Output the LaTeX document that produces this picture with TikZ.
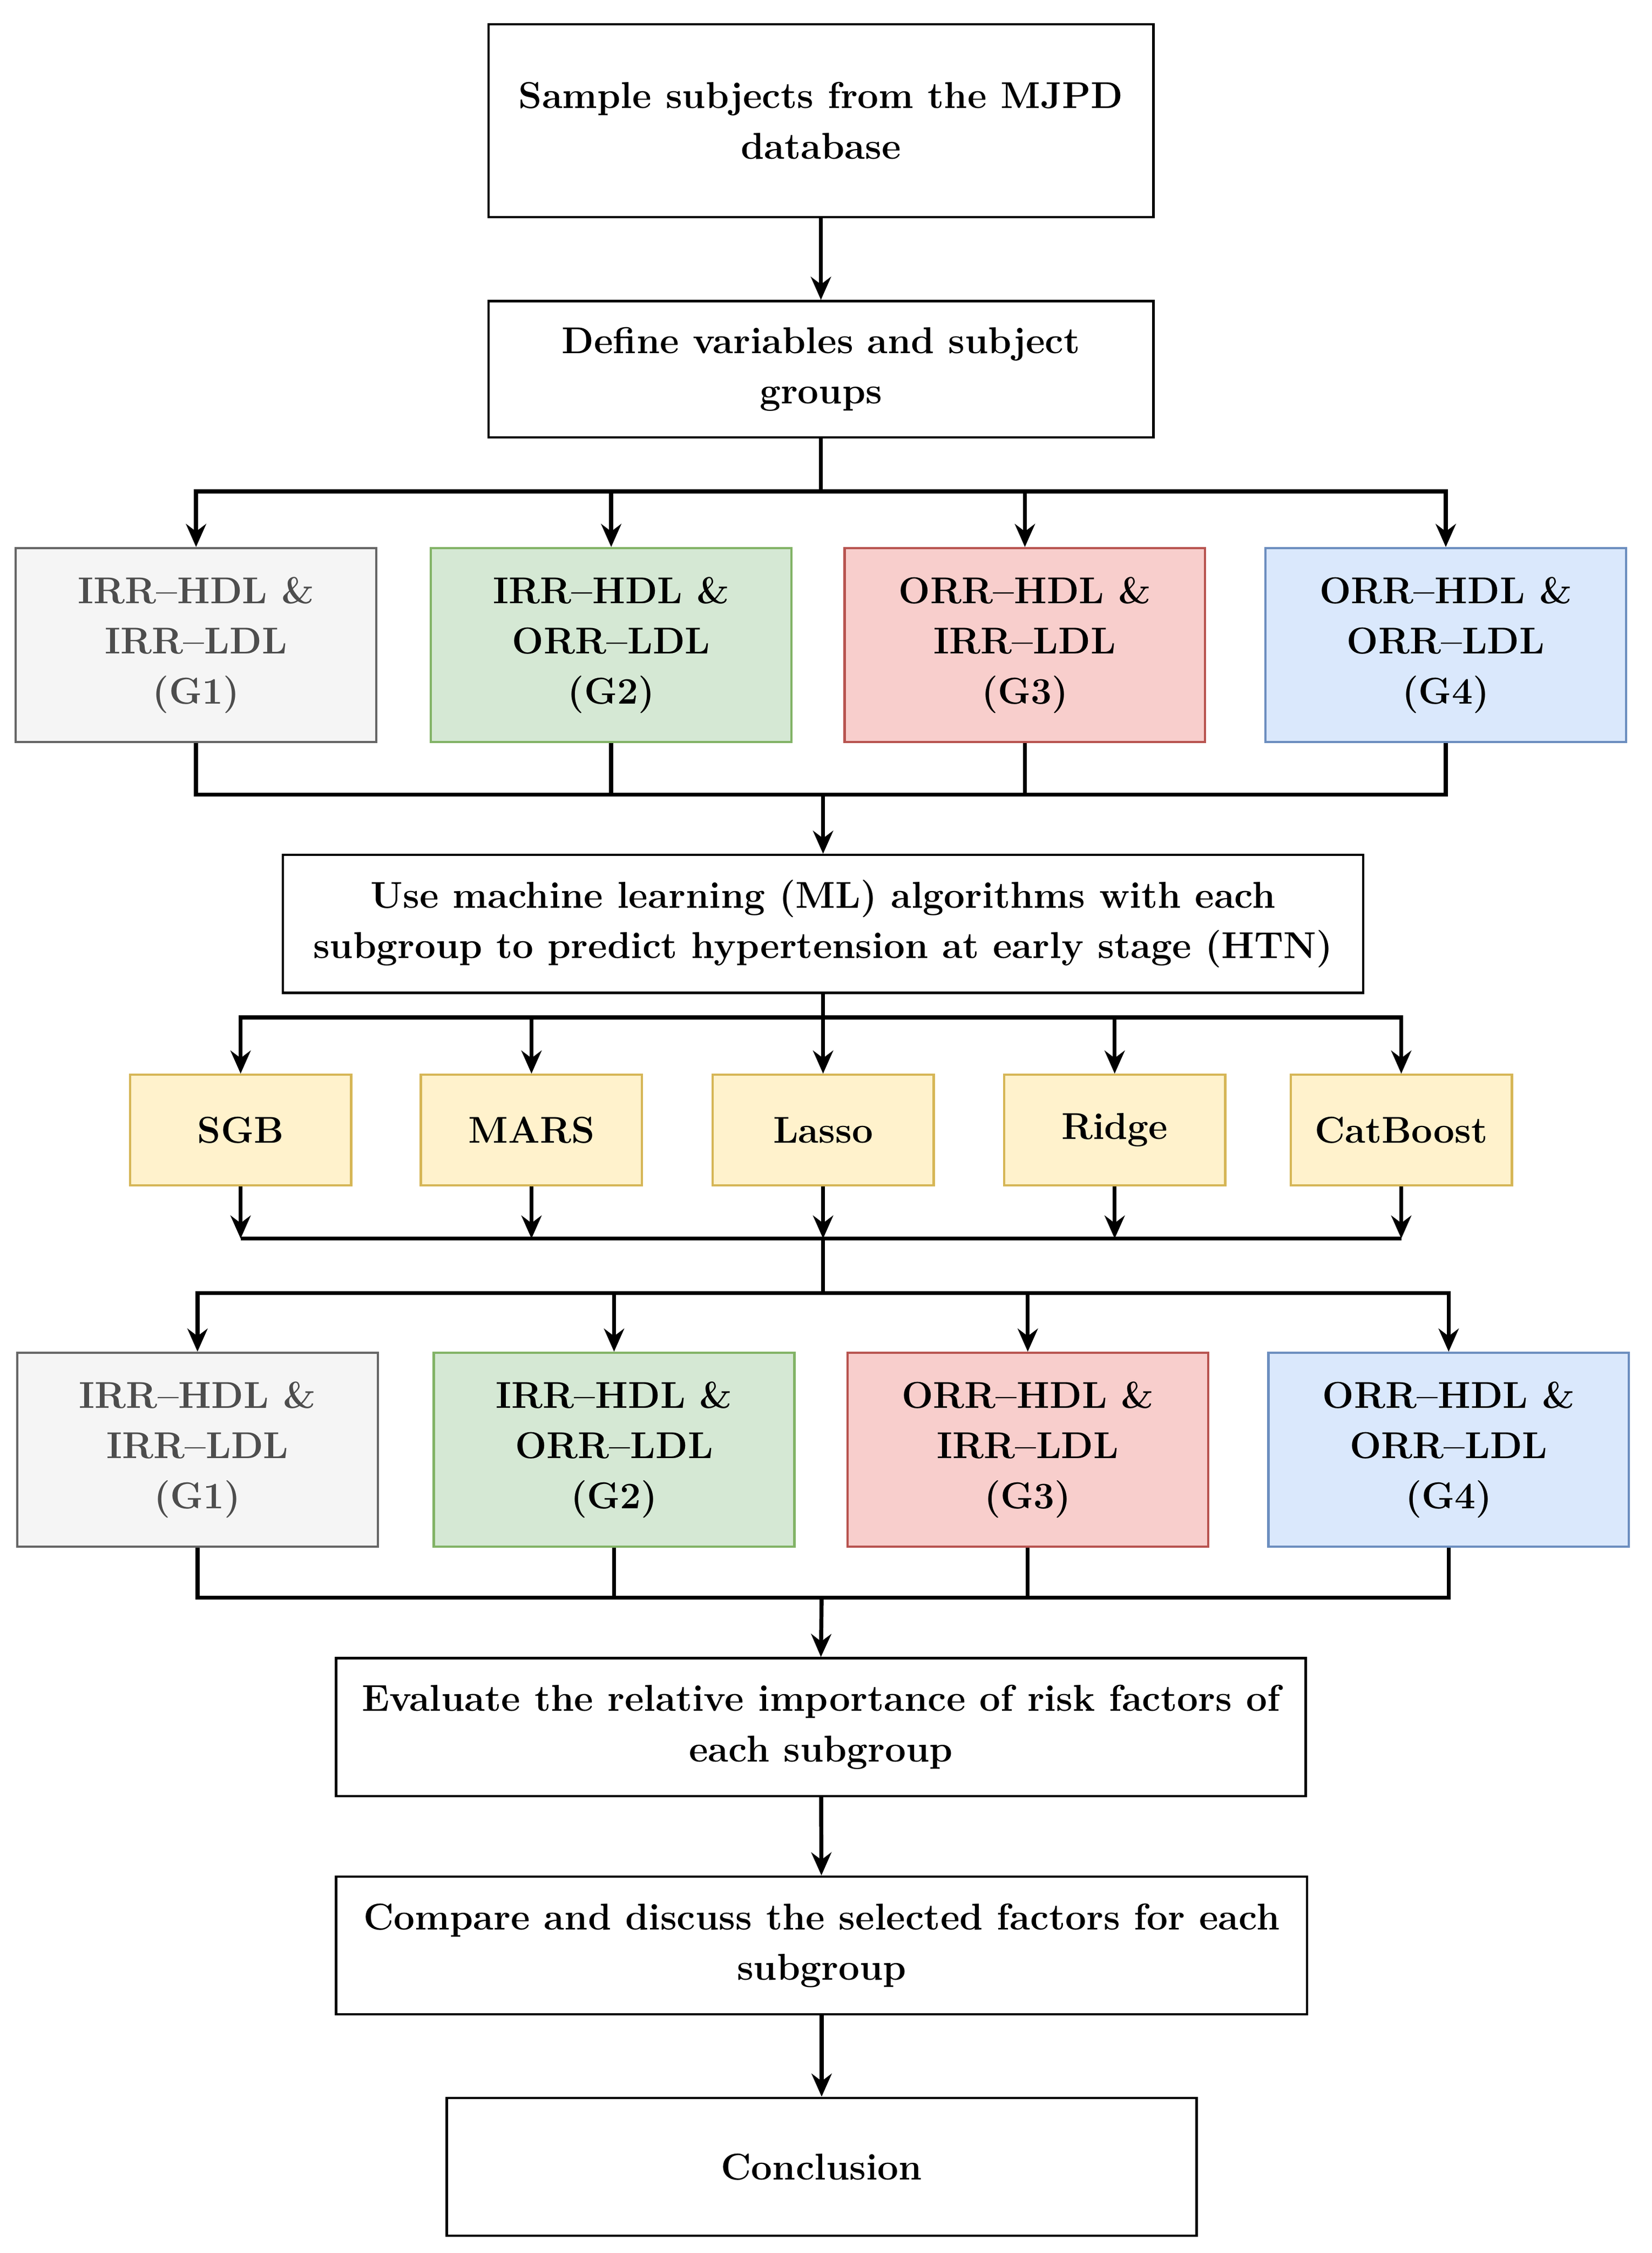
\documentclass[tikz,border=0pt]{standalone}
\usepackage{tikz}
\usetikzlibrary{arrows.meta}

\definecolor{gfill}{HTML}{F5F5F5}\definecolor{gline}{HTML}{666666}
\definecolor{grfill}{HTML}{D5E8D4}\definecolor{grline}{HTML}{82B366}
\definecolor{rfill}{HTML}{F8CECC}\definecolor{rline}{HTML}{B85450}
\definecolor{bfill}{HTML}{DAE8FC}\definecolor{bline}{HTML}{6C8EBF}
\definecolor{yfill}{HTML}{FFF2CC}\definecolor{yline}{HTML}{D6B656}
\definecolor{gtext}{HTML}{4D4D4D}

\tikzset{
  box/.style={draw, thick, align=center, inner sep=0pt, font=\fontsize{13}{17.5}\selectfont\bfseries},
  grp/.style={box, minimum width=125.5pt, minimum height=67.5pt},
  alg/.style={box, minimum width=77pt, minimum height=38.5pt, fill=yfill, draw=yline},
  arr/.style={-{Stealth[length=8pt,width=7pt]}, line width=1.4pt},
  ln/.style={line width=1.4pt}
}

\begin{document}
\begin{tikzpicture}[x=0.5pt, y=-0.5pt]
        \useasboundingbox (0,0) rectangle (1150,1568);
        % Steps
        \node (sample) [box, minimum width=231.5pt, minimum height=67pt] at (571.5,84) {Sample subjects from the MJPD\\database};
        \node (define) [box, minimum width=231.5pt, minimum height=47.5pt] at (571.5,257) {Define variables and subject\\groups};

        % Groups, first row
        \foreach \n/\x/\f/\d/\c/\t in {1/136.5/gfill/gline/gtext/IRR--HDL \&\\IRR--LDL\\(G1), 2/425.5/grfill/grline/black/IRR--HDL \&\\ORR--LDL\\(G2), 3/713.5/rfill/rline/black/ORR--HDL \&\\IRR--LDL\\(G3), 4/1006.5/bfill/bline/black/ORR--HDL \&\\ORR--LDL\\(G4)}
          \node (ga\n) [grp, fill=\f, draw=\d, text=\c] at (\x,449) {\t};
        \node (ml) [box, minimum width=376pt, minimum height=48pt] at (573,643) {Use machine learning (ML) algorithms with each\\subgroup to predict hypertension at early stage (HTN)};

        % Algorithms
        \foreach \n/\x/\t in {1/167.5/SGB, 2/370/MARS, 3/573/Lasso, 4/776/Ridge, 5/975.5/CatBoost}
          \node (alg\n) [alg] at (\x,786.5) {\t};

        % Groups, second row
        \foreach \n/\x/\f/\d/\c/\t in {1/137.5/gfill/gline/gtext/IRR--HDL \&\\IRR--LDL\\(G1), 2/427.5/grfill/grline/black/IRR--HDL \&\\ORR--LDL\\(G2), 3/715.5/rfill/rline/black/ORR--HDL \&\\IRR--LDL\\(G3), 4/1008.5/bfill/bline/black/ORR--HDL \&\\ORR--LDL\\(G4)}
          \node (gb\n) [grp, fill=\f, draw=\d, text=\c] at (\x,1009) {\t};
        \node (eval) [box, minimum width=337.5pt, minimum height=48pt] at (571.5,1202) {Evaluate the relative importance of risk factors of\\each subgroup};
        \node (comp) [box, minimum width=338pt, minimum height=48pt] at (572,1354) {Compare and discuss the selected factors for each\\subgroup};
        \node (concl) [box, minimum width=261pt, minimum height=48pt] at (572,1508) {Conclusion};

        % Junctions
        \coordinate (s1) at (571.5,342);
        \coordinate (m1) at (573,553);
        \coordinate (s2) at (573,708);
        \coordinate (m2) at (573,862);
        \coordinate (s3) at (573,900);
        \coordinate (m3) at (572,1112);

        % Arrows
        \draw[arr] (sample) -- (define);
        \draw[ln] (define.south) -- (s1);
        \foreach \n in {1,...,4} \draw[arr] (s1) -| (ga\n.north);
        \foreach \n in {1,...,4} \draw[ln] (ga\n.south) |- (m1);
        \draw[arr] (m1) -- (ml.north);
        \draw[ln] (ml.south) -- (s2);
        \foreach \n in {1,...,5} \draw[arr] (s2) -| (alg\n.north);
        \foreach \n in {1,...,5} \draw[arr] (alg\n.south) -- (alg\n.south |- m2);
        \draw[ln] (alg1.south |- m2) -- (alg5.south |- m2);
        \draw[ln] (m2) -- (s3);
        \foreach \n in {1,...,4} \draw[arr] (s3) -| (gb\n.north);
        \foreach \n in {1,...,4} \draw[ln] (gb\n.south) |- (m3);
        \draw[arr] (m3) -- (eval.north);
        \draw[arr] (eval) -- (comp);
        \draw[arr] (comp) -- (concl);
    \end{tikzpicture}
\end{document}
